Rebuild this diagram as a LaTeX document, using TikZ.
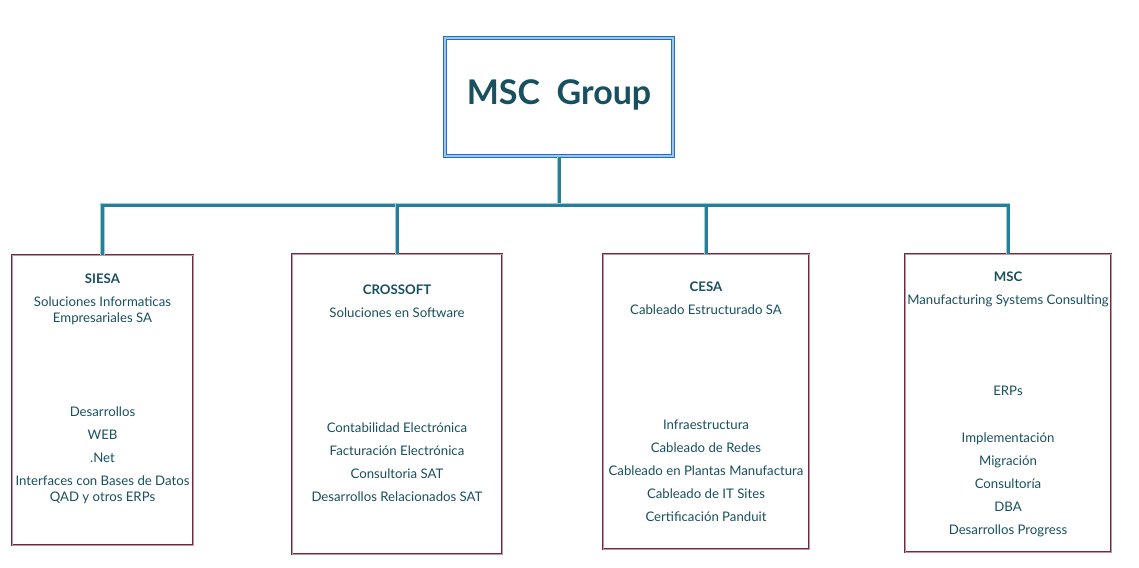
\documentclass[tikz,border=0pt]{standalone}
\usepackage{fontspec}
\setmainfont{Lato}
\usepackage{tikz}
\usetikzlibrary{positioning}
\usetikzlibrary{shapes,calc}
\definecolor{txt}{RGB}{25,80,95}
\definecolor{linkdark}{RGB}{35,128,152}
\definecolor{linklight}{RGB}{160,205,218}
\definecolor{topdark}{RGB}{30,112,192}
\definecolor{toplight}{RGB}{160,195,232}
\definecolor{boxdark}{RGB}{112,42,62}
\definecolor{boxlight}{RGB}{190,150,160}
\begin{document}
\begin{tikzpicture}[x=1pt,y=-1pt,
  top box/.style={draw=topdark,double=toplight,double distance=1.2pt,line width=1pt,fill=white,
    minimum width=228pt,minimum height=118pt,inner sep=0pt},
  firm box/.style={draw=boxdark,double=boxlight,double distance=0.8pt,line width=1pt,fill=white,inner sep=0pt},
  link/.style={draw=linklight,double=linkdark,double distance=3pt,line width=0.6pt},
  head/.style={text=txt,align=center,font=\fontsize{13.2}{16}\selectfont},
  items/.style={text=txt,align=center,font=\fontsize{13.2}{16}\selectfont}]
\useasboundingbox (0,0) rectangle (1139,567);
\coordinate (bus) at (559,205);
\node[top box] at (559,97) (group) {};
\node[text=txt,font=\fontsize{34}{40}\selectfont\bfseries] at (559,95) (grouptxt) {MSC\ \ Group};
\node[firm box,minimum width=181pt,minimum height=290pt] at (102.5,400) (siesa) {};
\node[firm box,minimum width=210pt,minimum height=300pt] at (397,404) (crossoft) {};
\node[firm box,minimum width=206pt,minimum height=295pt] at (706,401.5) (cesa) {};
\node[firm box,minimum width=206pt,minimum height=298pt] at (1008,403) (msc) {};
\draw[link] (group.south) -- (bus);
\draw[link] (siesa.north) |- (bus);
\draw[link] (crossoft.north) |- (bus);
\draw[link] (cesa.north) |- (bus);
\draw[link] (msc.north) |- (bus);
\node[head,anchor=north] at (102.5,270) (siesahead) {\textbf{SIESA}\\[7pt]Soluciones Informaticas\\Empresariales SA};
\node[items,anchor=north] at (102.5,403) (siesaitems) {Desarrollos\\[7pt]WEB\\[7pt].Net\\[7pt]Interfaces con Bases de Datos\\QAD y otros ERPs};
\node[head,anchor=north] at (397,281) (crossofthead) {\textbf{CROSSOFT}\\[7pt]Soluciones en Software};
\node[items,anchor=north] at (397,419) (crossoftitems) {Contabilidad Electrónica\\[7pt]Facturación Electrónica\\[7pt]Consultoria SAT\\[7pt]Desarrollos Relacionados SAT};
\node[head,anchor=north] at (706,278) (cesahead) {\textbf{CESA}\\[7pt]Cableado Estructurado SA};
\node[items,anchor=north] at (706,416) (cesaitems) {Infraestructura\\[7pt]Cableado de Redes\\[7pt]Cableado en Plantas Manufactura\\[7pt]Cableado de IT Sites\\[7pt]Certificación Panduit};
\node[head,anchor=north] at (1008,268) (mschead) {\textbf{MSC}\\[7pt]Manufacturing Systems Consulting};
\node[items,anchor=north] at (1008,383) (mscerp) {ERPs};
\node[items,anchor=north] at (1008,429) (mscitems) {Implementación\\[7pt]Migración\\[7pt]Consultoría\\[7pt]DBA\\[7pt]Desarrollos Progress};
\end{tikzpicture}
\end{document}
